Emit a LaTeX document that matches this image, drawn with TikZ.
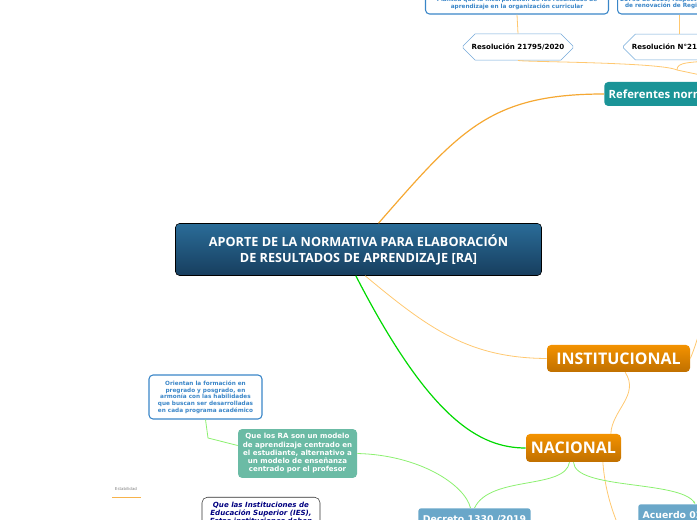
\documentclass[tikz,border=0pt]{standalone}
\usepackage{fontspec}
\setmainfont{DejaVu Sans}
\newfontfamily\osans{Open Sans}
\usetikzlibrary{shapes.geometric,shapes.misc,arrows.meta}
\definecolor{orA}{HTML}{F39200}
\definecolor{orB}{HTML}{C07000}
\definecolor{teal1}{HTML}{1A9497}
\definecolor{teal2}{HTML}{6BBBA5}
\definecolor{steel}{HTML}{6AA7C9}
\definecolor{navyA}{HTML}{2A6C98}
\definecolor{navyB}{HTML}{173E5E}
\definecolor{bluetxt}{HTML}{3A86C8}
\definecolor{lor}{HTML}{FFC870}
\definecolor{lgr}{HTML}{8CF070}
\tikzset{
 x=0.75pt,y=-0.75pt,
 orbox/.style={rounded corners=3pt,top color=orA,bottom color=orB,text=white,font=\osans\bfseries\fontsize{12}{14}\selectfont,inner sep=3pt},
 bluebox/.style={draw=bluetxt,rounded corners=3pt,fill=white,line width=0.8pt,text=bluetxt,font=\bfseries\fontsize{4.3}{5}\selectfont,align=center,inner sep=2pt},
 tagbox/.style={draw=bluetxt!70,fill=white,chamfered rectangle,chamfered rectangle xsep=4pt,chamfered rectangle ysep=5pt,font=\bfseries\fontsize{5.3}{6}\selectfont,inner sep=2.5pt},
 oline/.style={draw=lor,line width=0.6pt},
 oline2/.style={draw=orA!80,line width=0.9pt},
 gline/.style={draw=lgr,line width=0.6pt},
}
\begin{document}
\begin{tikzpicture}
\useasboundingbox (0,0) rectangle (697,520);
\clip (0,0) rectangle (697,520);
% nodes
\node[bluebox,minimum width=183*0.75pt,minimum height=22*0.75pt] (t1) at (517,3) {Plantea que la incorporación de los resultados de\\aprendizaje en la organización curricular};
\node[bluebox,minimum width=120*0.75pt,minimum height=22*0.75pt,anchor=west] (t2) at (617,3) {21795 de 2020, respecto a los procesos\\de renovación de Registro Calificado};
\node[tagbox] (r1) at (518,47) {Resolución 21795/2020};
\node[tagbox,anchor=west] (r2) at (623,47) {Resolución N°21795 de 2020};
\node[rounded corners=3pt,fill=teal1,text=white,font=\osans\bfseries\fontsize{8.5}{10}\selectfont,anchor=west,minimum height=24*0.75pt] (ref) at (604,94) {Referentes normativos};
\node[draw=black,rounded corners=3pt,top color=navyA,bottom color=navyB,text=white,font=\osans\bfseries\fontsize{9.5}{12}\selectfont,align=center,minimum width=366*0.75pt,minimum height=52*0.75pt] (main) at (358.5,249.5) {APORTE DE LA NORMATIVA PARA ELABORACIÓN\\DE RESULTADOS DE APRENDIZAJE [RA]};
\node[orbox,minimum width=143*0.75pt,minimum height=27*0.75pt] (inst) at (618.5,358.5) {INSTITUCIONAL};
\node[orbox,minimum width=95*0.75pt,minimum height=28*0.75pt] (nac) at (573.5,448) {NACIONAL};
\node[bluebox,minimum width=113*0.75pt,minimum height=44*0.75pt] (ori) at (205.5,397) {Orientan la formación en\\pregrado y posgrado, en\\armonía con las habilidades\\que buscan ser desarrolladas\\en cada programa académico};
\node[rounded corners=3pt,fill=teal2,text=white,font=\bfseries\fontsize{5.3}{6.2}\selectfont,align=center,minimum width=119*0.75pt,minimum height=47*0.75pt] (que) at (297.5,453.5) {Que los RA son un modelo\\de aprendizaje centrado en\\el estudiante, alternativo a\\un modelo de enseñanza\\centrado por el profesor};
\node[font=\fontsize{3}{3.5}\selectfont,text=gray] (est) at (126,489) {Estabilidad};
\draw[orA!70,line width=0.6pt] (112,497) -- (141,497);
\node[draw=black!80,rounded corners=4pt,fill=white,text=blue!50!black,font=\bfseries\itshape\fontsize{5.3}{6.3}\selectfont,align=center,minimum width=118*0.75pt,anchor=north] (ies) at (261,497) {Que las Instituciones de\\Educación Superior (IES),\\Estas instituciones deben};
\node[rounded corners=2pt,fill=steel,text=white,font=\bfseries\fontsize{7}{8}\selectfont,minimum width=111*0.75pt,minimum height=22*0.75pt,anchor=north] (dec) at (474.5,508) {Decreto 1330 /2019};
\node[rounded corners=2pt,fill=steel,text=white,font=\bfseries\fontsize{7}{8}\selectfont,minimum height=22*0.75pt,anchor=north west] (acu) at (638,504) {Acuerdo 02 de 2020};
% connectors
\draw[oline] (t1.south) -- (r1.north);
\draw[oline] ([xshift=-3.8pt]t2.south) -- ([xshift=-3.8pt]t2.south |- r2.north);
\draw[oline] (r1.south) .. controls (520,62) and (660,62) .. (677,70) -- ([xshift=-8pt]ref.north east);
\draw[oline] ([xshift=33pt]r2.south) .. controls (687,62) and (677,62) .. (677,70);
\draw[oline2] ([xshift=15pt]main.north) .. controls (460,130) and (490,94) .. (ref.west);
\draw[oline] ([xshift=5pt]main.south) .. controls (430,330) and (470,358) .. (inst.west);
\draw[oline] (inst.east) .. controls (694,350) and (697,340) .. (700,330);
\draw[oline] ([xshift=5pt]inst.south) .. controls (640,395) and (612,410) .. ([xshift=28pt]nac.north);
\draw[gline,draw=green!85!black,line width=0.9pt] ([xshift=-2pt]main.south) .. controls (430,420) and (480,448) .. (nac.west);
\draw[oline] ([xshift=22pt]nac.south) .. controls (605,490) and (612,510) .. (618,525);
\draw[gline] ([xshift=-3pt]nac.south) .. controls (565,490) and (490,475) .. (dec.north);
\draw[gline,-{Stealth[length=2pt]}] ([xshift=0pt]nac.south) .. controls (575,490) and (680,480) .. (acu.north);
\draw[gline] (que.east) .. controls (420,455) and (465,485) .. ([xshift=-3pt]dec.north);
\draw[gline] ([yshift=6pt]que.west) -- (208,438) -- (ori.south);
\end{tikzpicture}
\end{document}
